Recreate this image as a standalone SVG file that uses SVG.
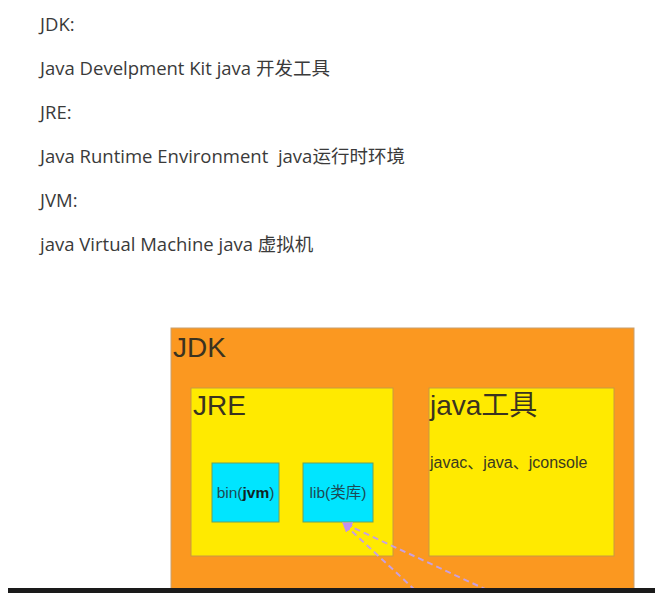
<svg xmlns="http://www.w3.org/2000/svg" width="655" height="593" viewBox="0 0 655 593">
<defs>
<style>
.note{font-family:"Open Sans","Noto Sans","Noto Sans CJK SC",sans-serif;font-size:18.5px;fill:#3a3a3a}
.big{font-family:"Liberation Sans","Noto Sans CJK SC",sans-serif;font-size:28px;fill:#3a3320}
.small{font-family:"Liberation Sans","Noto Sans CJK SC",sans-serif;font-size:16px;fill:#3a3a20}
.cell{font-family:"Liberation Sans","Noto Sans CJK SC",sans-serif;font-size:15.5px;fill:#1d4a55}
.conn{stroke:#c8a0e0;stroke-width:2;stroke-dasharray:6,4;fill:none}
</style>
<marker id="ah" viewBox="0 0 10 10" refX="9" refY="5" markerWidth="5" markerHeight="5" orient="auto">
<path d="M0,0 L10,5 L0,10 z" fill="#c090f0"/>
</marker>
</defs>
<rect width="655" height="593" fill="#ffffff"/>
<g id="notes">
<text class="note" x="40" y="31">JDK:</text>
<text class="note" x="40" y="75">Java Develpment Kit java 开发工具</text>
<text class="note" x="40" y="119">JRE:</text>
<text class="note" x="40" y="163" xml:space="preserve">Java Runtime Environment  java运行时环境</text>
<text class="note" x="40" y="207">JVM:</text>
<text class="note" x="40" y="251">java Virtual Machine java 虚拟机</text>
</g>
<g id="jdk">
<rect x="171" y="328" width="463" height="265" fill="#fb9820" stroke="#c8a070" stroke-width="1"/>
<text class="big" x="173" y="357">JDK</text>
</g>
<g id="jre">
<rect x="191" y="388" width="202" height="168" fill="#ffea00" stroke="#c89a40" stroke-width="1"/>
<text class="big" x="193" y="415">JRE</text>
</g>
<g id="javatools">
<rect x="429" y="388" width="185" height="168" fill="#ffea00" stroke="#c89a40" stroke-width="1"/>
<text class="big" x="430" y="415">java工具</text>
<text class="small" x="430" y="468">javac、java、jconsole</text>
</g>
<g id="bin">
<rect x="212" y="463" width="67" height="59" fill="#00e5ff" stroke="#6aa060" stroke-width="1"/>
<text class="cell" x="245.5" y="498" text-anchor="middle">bin(<tspan font-weight="bold" fill="#122">jvm</tspan>)</text>
</g>
<g id="lib">
<rect x="303" y="463" width="70" height="59" fill="#00e5ff" stroke="#6aa060" stroke-width="1"/>
<text class="cell" x="338" y="498" text-anchor="middle">lib(类库)</text>
</g>
<g id="connectors">
<line class="conn" x1="415" y1="590" x2="343" y2="523" marker-end="url(#ah)"/>
<line class="conn" x1="487" y1="590" x2="343" y2="523" marker-end="url(#ah)"/>
</g>
<rect x="8" y="588" width="647" height="5" fill="#1a1a1a"/>
</svg>
